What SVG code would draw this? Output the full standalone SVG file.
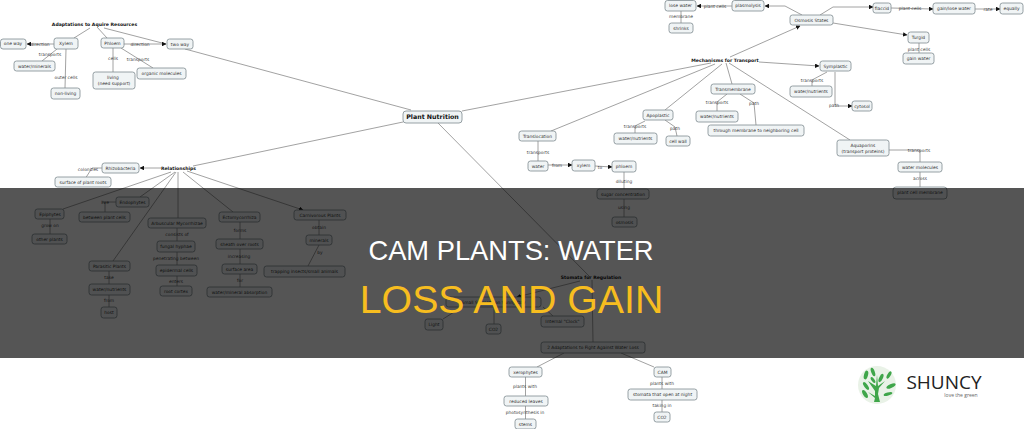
<svg xmlns="http://www.w3.org/2000/svg" width="1024" height="429" viewBox="0 0 1024 429">
<style>
text{font-family:"DejaVu Sans","Liberation Sans",sans-serif;text-anchor:middle;fill:#444;font-size:4.4px}
.n rect{fill:#f0f4f5;stroke:#7d8a8f;stroke-width:.8}
.n text{font-size:4.4px;fill:#333}
.h{font-weight:bold;fill:#111;font-size:4.6px}
.c path{fill:none;stroke:#6f6f6f;stroke-width:.65}
.t{font-family:"Liberation Sans",Arial,sans-serif;fill:#fff}
.leaf{fill:#3fa64a}
.pale{fill:#e9f2e7}
</style>
<defs><marker id="a" markerWidth="4.500" markerHeight="4.500" refX="4" refY="2.250" orient="auto" markerUnits="userSpaceOnUse"><path d="M0 0L4.500 2.250L0 4.500z" fill="#111"/></marker></defs>
<rect width="1024" height="429" fill="#fff"/>
<g class="c" id="connectors">
<path d="M90 28L74 38M97 27L107 38M104 28L166 44"/>
<path d="M54 44H27" marker-end="url(#a)"/>
<path d="M124 44L166 44" marker-end="url(#a)"/>
<path d="M57 49L42 61M66 49L65 88M113 48V72M121 48L153 68"/>
<path d="M185 49L411 110M193 166L403 122"/>
<path d="M161 168H140" marker-end="url(#a)"/>
<path d="M102 168H92L85 179"/>
<path d="M171 172L63 209M175 172L140 197M176 172L113 261M178 172V218"/>
<path d="M183 172L233 212"/>
<path d="M187 171L303 210" marker-end="url(#a)"/>
<path d="M50 219V234M116 202H102M105 202V212M177 228V286M240 222V287M319 220V235M319 245L308 266M109 271V307"/>
<path d="M462 111L711 63M551 131L715 64M665 110L722 64M438 123L590 277"/>
<path d="M730 57L800 26" marker-end="url(#a)"/>
<path d="M759 62L819 66" marker-end="url(#a)"/>
<path d="M726 63L732 84M729 63L850 140"/>
<path d="M802 15L785 6H765" marker-end="url(#a)"/>
<path d="M732 6H697" marker-end="url(#a)"/>
<path d="M820 15L833 7H873" marker-end="url(#a)"/>
<path d="M891 8L933 9" marker-end="url(#a)"/>
<path d="M975 9H1000" marker-end="url(#a)"/>
<path d="M833 23L907 35" marker-end="url(#a)"/>
<path d="M919 43V53M681 11V23"/>
<path d="M827 72L812 80V86"/>
<path d="M835 72V105"/>
<path d="M835 106H852" marker-end="url(#a)"/>
<path d="M727 94L717 102V111M740 94L754 103L756 125"/>
<path d="M889 150H920V162M920 172V187"/>
<path d="M538 141V161M645 121L635 126V133M665 120L675 127L677 136"/>
<path d="M548 165H572" marker-end="url(#a)"/>
<path d="M595 166L612 167" marker-end="url(#a)"/>
<path d="M624 172V217"/>
<path d="M580 281L517 297" marker-end="url(#a)"/>
<path d="M592 280L593 342M462 307L443 319M494 307V324M543 307L553 316"/>
<path d="M564 353L537 367M621 353L654 367M525.500 377V419M662 377V412"/>
</g>
<g class="n">
<g id="plant-nutrition"><rect x="403" y="111" width="59" height="12" rx="3"/><text x="432.500" y="119" style="font-size:6.300px;font-weight:bold;fill:#111">Plant Nutrition</text></g>
<g id="one-way"><rect x="0.500" y="39" width="25.500" height="10" rx="2.500"/><text x="13" y="45">one way</text></g>
<g id="xylem-a"><rect x="54" y="38" width="24" height="11" rx="2.500"/><text x="66" y="45">Xylem</text></g>
<g id="phloem-a"><rect x="101" y="38" width="23" height="10" rx="2.500"/><text x="112.500" y="45">Phloem</text></g>
<g id="two-way"><rect x="167" y="39" width="26" height="10" rx="2.500"/><text x="180" y="45.500">two way</text></g>
<g id="water-minerals"><rect x="14" y="61" width="41" height="10" rx="2.500"/><text x="34.500" y="68">water/minerals</text></g>
<g id="non-living"><rect x="51" y="88" width="29" height="11" rx="2.500"/><text x="65.500" y="95">non-living</text></g>
<g id="living"><rect x="93" y="72" width="42" height="17" rx="2.500"/><text x="113" y="79">living</text><text x="114" y="85">(need support)</text></g>
<g id="organic"><rect x="137" y="68" width="49" height="11" rx="2.500"/><text x="161.500" y="75">organic molecules</text></g>
<g id="rhizobacteria"><rect x="102" y="163" width="37" height="10" rx="2.500"/><text x="120.500" y="169.500">Rhizobacteria</text></g>
<g id="plant-roots"><rect x="55" y="177" width="56" height="10" rx="2.500"/><text x="83" y="184">surface of plant roots</text></g>
<g id="epiphytes"><rect x="35" y="209" width="29" height="10" rx="2.500"/><text x="50" y="215.500">Epiphytes</text></g>
<g id="other-plants"><rect x="32" y="234" width="35" height="10" rx="2.500"/><text x="49.500" y="240.500">other plants</text></g>
<g id="endophytes"><rect x="116" y="197" width="33" height="10" rx="2.500"/><text x="132.500" y="203.500">Endophytes</text></g>
<g id="between"><rect x="79" y="212" width="51" height="10" rx="2.500"/><text x="104.500" y="218.500">between plant cells</text></g>
<g id="arbuscular"><rect x="148" y="218" width="58" height="10" rx="2.500"/><text x="177" y="224.500">Arbuscular Mycorrhizae</text></g>
<g id="hyphae"><rect x="157" y="241" width="38" height="11" rx="2.500"/><text x="176" y="248">fungal hyphae</text></g>
<g id="epidermal"><rect x="156" y="265" width="41" height="11" rx="2.500"/><text x="176.500" y="272">epidermal cells</text></g>
<g id="cortex"><rect x="160" y="286" width="32" height="10" rx="2.500"/><text x="176" y="293">root cortex</text></g>
<g id="ecto"><rect x="219" y="212" width="41" height="10" rx="2.500"/><text x="239.500" y="218.500">Ectomycorrhiza</text></g>
<g id="sheath"><rect x="216" y="239" width="47" height="10" rx="2.500"/><text x="239.500" y="245.500">sheath over roots</text></g>
<g id="surface-area"><rect x="222" y="264" width="35" height="10" rx="2.500"/><text x="239.500" y="270.500">surface area</text></g>
<g id="absorption"><rect x="207" y="287" width="65" height="10" rx="2.500"/><text x="239.500" y="294">water/mineral absorption</text></g>
<g id="carnivorous"><rect x="294" y="210" width="52" height="10" rx="2.500"/><text x="320" y="216.500">Carnivorous Plants</text></g>
<g id="minerals"><rect x="306" y="235" width="26" height="10" rx="2.500"/><text x="319" y="241.500">minerals</text></g>
<g id="trapping"><rect x="264" y="266" width="81" height="11" rx="2.500"/><text x="304.500" y="273">trapping insects/small animals</text></g>
<g id="parasitic"><rect x="89" y="261" width="41" height="10" rx="2.500"/><text x="109.500" y="267.500">Parasitic Plants</text></g>
<g id="para-water"><rect x="89" y="284" width="41" height="11" rx="2.500"/><text x="109.500" y="291">water/nutrients</text></g>
<g id="host"><rect x="101" y="307" width="16" height="11" rx="2.500"/><text x="109" y="314">host</text></g>
<g id="translocation"><rect x="519" y="131" width="37" height="10" rx="2.500"/><text x="537.500" y="137.500">Translocation</text></g>
<g id="water"><rect x="528" y="161" width="20" height="10" rx="2.500"/><text x="538" y="168">water</text></g>
<g id="xylem-b"><rect x="572" y="160" width="23" height="11" rx="2.500"/><text x="583.500" y="166.500">xylem</text></g>
<g id="phloem-b"><rect x="612" y="161" width="24" height="11" rx="2.500"/><text x="624" y="168">phloem</text></g>
<g id="sugar"><rect x="597" y="189" width="52" height="10" rx="2.500"/><text x="623" y="195.500">sugar concentration</text></g>
<g id="osmosis"><rect x="612" y="217" width="25" height="10" rx="2.500"/><text x="624.500" y="223.500">osmosis</text></g>
<g id="apoplastic"><rect x="643" y="110" width="30" height="10" rx="2.500"/><text x="658" y="116.500">Apoplastic</text></g>
<g id="apo-water"><rect x="614" y="133" width="43" height="11" rx="2.500"/><text x="635.500" y="140">water/nutrients</text></g>
<g id="cell-wall"><rect x="666" y="136" width="24" height="10" rx="2.500"/><text x="678" y="142.500">cell wall</text></g>
<g id="transmembrane"><rect x="711" y="84" width="44" height="10" rx="2.500"/><text x="733" y="90.500">Transmembrane</text></g>
<g id="trans-water"><rect x="696" y="111" width="42" height="11" rx="2.500"/><text x="717" y="118">water/nutrients</text></g>
<g id="through"><rect x="708" y="125" width="96" height="11" rx="2.500"/><text x="756" y="132">through membrane to neighboring cell</text></g>
<g id="symplastic"><rect x="820" y="61" width="31" height="10" rx="2.500"/><text x="835.500" y="67.500">Symplastic</text></g>
<g id="sym-water"><rect x="790" y="86" width="42" height="11" rx="2.500"/><text x="811" y="93">water/nutrients</text></g>
<g id="cytosol"><rect x="852" y="101" width="20" height="10" rx="2.500"/><text x="862" y="108">cytosol</text></g>
<g id="aquaporins"><rect x="837" y="140" width="52" height="16" rx="2.500"/><text x="863" y="147">Aquaporins</text><text x="863" y="153">(transport proteins)</text></g>
<g id="water-molecules"><rect x="898" y="162" width="44" height="10" rx="2.500"/><text x="920" y="168.500">water molecules</text></g>
<g id="membrane"><rect x="893" y="187" width="54" height="12" rx="3"/><text x="920" y="194">plant cell membrane</text></g>
<g id="osmosis-states"><rect x="790" y="15" width="43" height="10" rx="2.500"/><text x="811.500" y="21.500">Osmosis States</text></g>
<g id="plasmolysis"><rect x="732" y="0.500" width="32" height="10.500" rx="2.500"/><text x="748" y="7">plasmolysis</text></g>
<g id="lose-water"><rect x="665" y="0.500" width="31" height="10.500" rx="2.500"/><text x="680.500" y="7">lose water</text></g>
<g id="shrinks"><rect x="669" y="23" width="24" height="10" rx="2.500"/><text x="681" y="30">shrinks</text></g>
<g id="flaccid"><rect x="873" y="3" width="18" height="10" rx="2.500"/><text x="882" y="9.500">flaccid</text></g>
<g id="gain-lose"><rect x="933" y="3" width="42" height="11" rx="2.500"/><text x="954" y="10">gain/lose water</text></g>
<g id="equally"><rect x="1000" y="3" width="23" height="11" rx="2.500"/><text x="1011.500" y="10">equally</text></g>
<g id="turgid"><rect x="908" y="32" width="21" height="11" rx="2.500"/><text x="918.500" y="39">Turgid</text></g>
<g id="gain-water"><rect x="903" y="53" width="31" height="11" rx="2.500"/><text x="918.500" y="60">gain water</text></g>
<g id="small-stomata"><rect x="446" y="297" width="95" height="10" rx="2.500"/><text x="493.500" y="303.500">Small Stomata on Sunny Day</text></g>
<g id="light"><rect x="425" y="319" width="18" height="11" rx="2.500"/><text x="434" y="326">Light</text></g>
<g id="co2-a"><rect x="486" y="324" width="15" height="10" rx="2.500"/><text x="493.500" y="331">CO2</text></g>
<g id="clock"><rect x="541" y="316" width="43" height="11" rx="2.500"/><text x="562.500" y="323">Internal "Clock"</text></g>
<g id="adaptations-2"><rect x="541" y="342" width="104" height="11" rx="2.500"/><text x="593" y="349">2 Adaptations to Fight Against Water Loss</text></g>
<g id="xerophytes"><rect x="509" y="367" width="33" height="10" rx="2.500"/><text x="525.500" y="373.500">xerophytes</text></g>
<g id="reduced"><rect x="504" y="396" width="44" height="10" rx="2.500"/><text x="526" y="402.500">reduced leaves</text></g>
<g id="stems"><rect x="515" y="419" width="21" height="10" rx="2.500"/><text x="525.500" y="425.500">stems</text></g>
<g id="cam"><rect x="654" y="367" width="17" height="10" rx="2.500"/><text x="662.500" y="373.500">CAM</text></g>
<g id="stomata-night"><rect x="628" y="389" width="69" height="11" rx="2.500"/><text x="662.500" y="396">stomata that open at night</text></g>
<g id="co2-b"><rect x="654" y="412" width="16" height="10" rx="2.500"/><text x="662" y="419">CO2</text></g>
</g>
<g id="headings">
<text class="h" x="94.500" y="26">Adaptations to Aquire Resources</text>
<text class="h" x="178.500" y="170">Relationships</text>
<text class="h" x="725" y="61.500">Mechanisms for Transport</text>
<text class="h" x="591" y="279">Stomata for Regulation</text>
</g>
<g id="labels">
<text x="40" y="45.500">direction</text><text x="50" y="56">transports</text><text x="66" y="78.500">outer cells</text><text x="140" y="45.500">direction</text><text x="113" y="59.500">cells</text><text x="138" y="60.500">transports</text><text x="88" y="170.500">colonizes</text>
<text x="105" y="203.500">live</text><text x="50" y="227">grow on</text><text x="177" y="235.500">consists of</text><text x="176" y="259.500">penetrating between</text><text x="176" y="282.500">enters</text><text x="240" y="231.500">forms</text><text x="239" y="257.500">increasing</text><text x="240" y="281.500">for</text><text x="319" y="228.500">obtain</text><text x="320" y="253.500">by</text><text x="109" y="278.500">take</text><text x="109" y="301.500">from</text>
<text x="538" y="153.500">transports</text><text x="557" y="166.500">from</text><text x="600" y="168.500">to</text><text x="624" y="182.500">diluting</text><text x="624" y="208.500">using</text><text x="635" y="127.500">transports</text><text x="675" y="129.500">path</text><text x="717" y="103.500">transports</text><text x="754" y="104.500">path</text><text x="812" y="81.500">transports</text><text x="834" y="106.500">path</text><text x="919" y="151.500">transports</text><text x="920" y="179.500">across</text>
<text x="681" y="17.500">membrane</text><text x="715" y="7.500">plant cells</text><text x="910" y="9.500">plant cells</text><text x="988" y="10.500">rate</text><text x="919" y="50.500">plant cells</text>
<text x="525" y="387.500">plants with</text><text x="525" y="413.500">photosynthesis in</text><text x="662" y="384.500">plants with</text><text x="662" y="406.500">taking in</text>
</g>
<rect id="band" y="188" width="1024" height="170" fill="#000" fill-opacity=".667"/>
<g id="title">
<text class="t" x="511" y="260" style="font-size:27.300px">CAM PLANTS: WATER</text>
<text class="t" x="511.500" y="313" style="font-size:39.300px;fill:#f7bd1f">LOSS AND GAIN</text>
</g>
<g id="logo">
<circle class="pale" cx="877" cy="385" r="19"/>
<path d="M874 402L877 402L880 402L878 394L879 388L885 381L878 386L877 375L876 386L868 381L875 391L875 396L868 392L875 398z" fill="#3fa64a"/>
<g class="leaf">
<ellipse cx="866" cy="375" rx="2" ry="4.500" transform="rotate(15 866 375)"/>
<ellipse cx="873" cy="372" rx="1.800" ry="4.500" transform="rotate(-20 873 372)"/>
<ellipse cx="881" cy="378" rx="1.800" ry="4.500" transform="rotate(25 881 378)"/>
<ellipse cx="889" cy="375" rx="1.700" ry="4" transform="rotate(30 889 375)"/>
<ellipse cx="891" cy="386" rx="1.800" ry="5" transform="rotate(65 891 386)"/>
<ellipse cx="888" cy="394" rx="1.600" ry="4.500" transform="rotate(75 888 394)"/>
<ellipse cx="866" cy="386" rx="1.800" ry="4.500" transform="rotate(-35 866 386)"/>
<ellipse cx="865" cy="394" rx="2" ry="4.500" transform="rotate(-30 865 394)"/>
<ellipse cx="873" cy="380" rx="1.500" ry="3.500" transform="rotate(-35 873 380)"/>
</g>
<text x="944" y="389" style="font-family:'Open Sans','Noto Sans',sans-serif;font-size:19px;fill:#222">SHUNCY</text>
<text x="961" y="396.500" style="font-family:'Open Sans','Noto Sans',sans-serif;font-size:5px;fill:#666">love the green</text>
</g>
</svg>
